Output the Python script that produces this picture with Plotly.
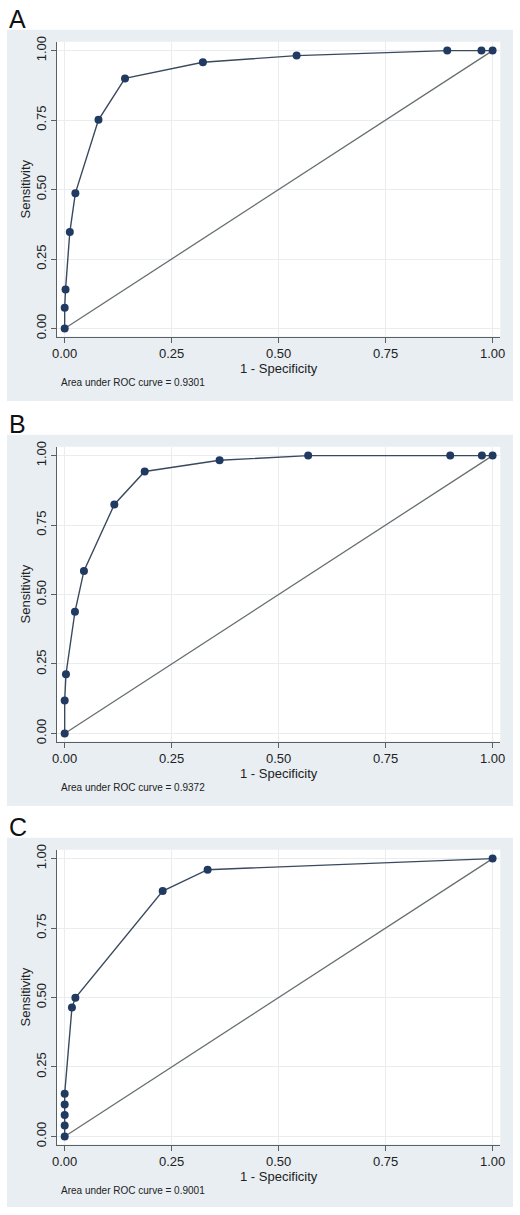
import plotly.graph_objects as go

# ---------------- data ----------------
panel_labels = ["A", "B", "C"]
auc_labels = ["Area under ROC curve = 0.9301",
              "Area under ROC curve = 0.9372",
              "Area under ROC curve = 0.9001"]

a_fpr = [0, 0, 0.002, 0.012, 0.025, 0.079, 0.141, 0.323, 0.542, 0.894, 0.974, 1.0]
a_sens = [0, 0.075, 0.140, 0.347, 0.487, 0.751, 0.900, 0.958, 0.982, 1.0, 1.0, 1.0]

b_fpr = [0, 0, 0.003, 0.024, 0.045, 0.116, 0.187, 0.362, 0.569, 0.901, 0.975, 1.0]
b_sens = [0, 0.119, 0.213, 0.438, 0.585, 0.824, 0.943, 0.983, 1.0, 1.0, 1.0, 1.0]

c_fpr = [0, 0, 0, 0, 0, 0.017, 0.025, 0.229, 0.334, 1.0]
c_sens = [0, 0.039, 0.077, 0.115, 0.154, 0.464, 0.499, 0.883, 0.960, 1.0]

ref_x = [0, 1]
ref_y = [0, 1]

tick_vals = [0, 0.25, 0.5, 0.75, 1.0]
tick_text = ["0.00", "0.25", "0.50", "0.75", "1.00"]
x_title = "1 - Specificity"
y_title = "Sensitivity"

# ---------------- style ----------------
W, H = 520, 1215
FONT = "Liberation Sans, Arial, Helvetica, sans-serif"
BOX = "#e8eef2"
NAVY = "#213a62"
CURVE = "#3a4a5e"
DIAG = "#67706f"
GRID = "#eaedf0"
AXIS = "#5a5f63"
TXT = "#222222"

series = [(a_fpr, a_sens), (b_fpr, b_sens), (c_fpr, c_sens)]

# pixel geometry (top, bottom of plot area; box top/bottom)
plot_px = [(36, 333), (444, 741), (850, 1147)]
box_px = [(24, 398), (432, 806), (838, 1210)]
letter_py = [13, 421, 827]
PL, PR = 53, 505


def px(v):
    return v / W


def py(v):
    return 1 - v / H


fig = go.Figure()
shapes = []
annotations = []

for i, ((fx, sy), (pt, pb), (bt, bb)) in enumerate(zip(series, plot_px, box_px)):
    n = "" if i == 0 else str(i + 1)
    xa, ya = "x" + n, "y" + n
    fig.add_trace(go.Scatter(x=ref_x, y=ref_y, mode="lines", xaxis=xa, yaxis=ya,
                             line=dict(color=DIAG, width=1.3), showlegend=False,
                             hoverinfo="skip"))
    fig.add_trace(go.Scatter(x=fx, y=sy, mode="lines+markers", xaxis=xa, yaxis=ya,
                             line=dict(color=CURVE, width=1.4),
                             marker=dict(color=NAVY, size=8,
                                         line=dict(color=NAVY, width=0)),
                             showlegend=False))
    common = dict(tickvals=tick_vals, ticktext=tick_text, showgrid=True,
                  gridcolor=GRID, gridwidth=1, zeroline=False,
                  showline=True, linecolor=AXIS, linewidth=1.2,
                  ticks="outside", ticklen=5, tickcolor=AXIS, tickwidth=1,
                  tickfont=dict(family=FONT, size=13, color=TXT),
                  fixedrange=True)
    fig.update_layout(**{
        ("xaxis" + n): dict(domain=[px(PL), px(PR)], range=[-0.018, 1.018], anchor=ya,
                            title=dict(text=x_title, standoff=2,
                                       font=dict(family=FONT, size=13, color=TXT)),
                            **common),
        ("yaxis" + n): dict(domain=[py(pb), py(pt)], range=[-0.029, 1.032], anchor=xa,
                            tickangle=-90,
                            title=dict(text=y_title, standoff=0,
                                       font=dict(family=FONT, size=13, color=TXT)),
                            **common),
    })
    shapes.append(dict(type="rect", xref="paper", yref="paper",
                       x0=px(2), x1=px(518), y0=py(bb), y1=py(bt),
                       fillcolor=BOX, line=dict(width=0), layer="below"))
    shapes.append(dict(type="rect", xref="paper", yref="paper",
                       x0=px(PL), x1=px(PR), y0=py(pb), y1=py(pt),
                       fillcolor="white", line=dict(width=0), layer="below"))
    annotations.append(dict(text=auc_labels[i], xref="paper", yref="paper",
                            x=px(55), y=py(pb + 46), xanchor="left",
                            yanchor="middle", showarrow=False,
                            font=dict(family=FONT, size=10, color=TXT)))
    annotations.append(dict(text=panel_labels[i], xref="paper", yref="paper",
                            x=px(2), y=py(letter_py[i]), xanchor="left",
                            yanchor="middle", showarrow=False,
                            font=dict(family=FONT, size=25, color="#111111")))

fig.update_layout(width=W, height=H, margin=dict(l=0, r=0, t=0, b=0),
                  paper_bgcolor="white", plot_bgcolor="white",
                  shapes=shapes, annotations=annotations)

fig.write_html("out.html",
               config={"displayModeBar": False, "staticPlot": True},
               post_script="document.body.style.margin='0';"
                           "document.body.style.overflow='hidden';")
